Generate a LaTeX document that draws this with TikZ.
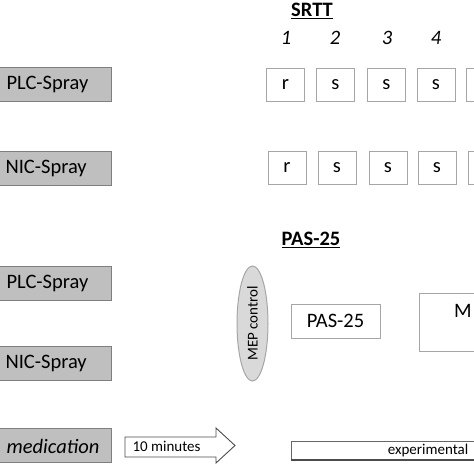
\documentclass[tikz,border=0pt]{standalone}
\usepackage{fontspec}
\setmainfont{Carlito}
\usetikzlibrary{shapes.geometric}
\definecolor{grayfill}{HTML}{BFBFBF}
\definecolor{grayline}{HTML}{7F7F7F}
\definecolor{boxline}{HTML}{A6A6A6}
\definecolor{ellfill}{HTML}{D9D9D9}
\tikzset{
  groupbox/.style={draw=grayline, fill=grayfill, line width=0.9pt},
  trialbox/.style={draw=boxline, line width=1pt, minimum width=38pt, minimum height=33pt, inner sep=0pt, font=\fontsize{20.5}{22}\selectfont},
  title/.style={font=\fontsize{20.5}{22}\selectfont\bfseries},
  num/.style={font=\fontsize{20.5}{22}\selectfont\itshape},
  big/.style={font=\fontsize{20.5}{22}\selectfont},
  small/.style={font=\fontsize{15}{17}\selectfont},
}
\begin{document}
\begin{tikzpicture}[x=1pt,y=-1pt]
\useasboundingbox (0,0) rectangle (474,474);
\clip (0,0) rectangle (474,474);
% left group boxes
\draw[groupbox] (-10,67) rectangle (111,101);
\node[big, anchor=west] (plc1) at (3,84.5) {PLC-Spray};
\draw[groupbox] (-10,151) rectangle (111,185);
\node[big, anchor=west] (nic1) at (2,168.5) {NIC-Spray};
\draw[groupbox] (-10,266) rectangle (111,300);
\node[big, anchor=west] (plc2) at (3,283.5) {PLC-Spray};
\draw[groupbox] (-10,346) rectangle (111,380);
\node[big, anchor=west] (nic2) at (2,363.5) {NIC-Spray};
\draw[groupbox] (-10,428) rectangle (111,462);
\node[big, font=\fontsize{20.5}{22}\selectfont\itshape] (med) at (53,446) {medication};
% SRTT
\node[title, inner sep=1pt] (srtt) at (312,11) {\underline{SRTT}};
\node[num] (n1) at (286,38) {1};
\node[num] (n2) at (335,38) {2};
\node[num] (n3) at (387,38) {3};
\node[num] (n4) at (436,38) {4};
\node[trialbox] (a1) at (285.5,85) {r};
\node[trialbox] (a2) at (335.5,85) {s};
\node[trialbox] (a3) at (386.5,85) {s};
\node[trialbox] (a4) at (436,85) {s};
\node[trialbox] (a5) at (485,85) {};
\node[trialbox] (b1) at (287,167.5) {r};
\node[trialbox] (b2) at (337,167.5) {s};
\node[trialbox] (b3) at (388,167.5) {s};
\node[trialbox] (b4) at (437,167.5) {s};
\node[trialbox] (b5) at (487,167.5) {};
% PAS-25
\node[title] (pas) at (311,240) {\underline{PAS-25}};
\node[ellipse, draw=boxline, fill=ellfill, line width=1pt, minimum width=31pt, minimum height=115pt, inner sep=0pt] (mep) at (252.5,323.5) {};
\node[small, rotate=90] (meptext) at (252.5,323.5) {MEP control};
\node[draw=boxline, line width=1pt, minimum width=89pt, minimum height=34pt, inner sep=0pt, big] (pasbox) at (335.5,321) {PAS-25};
\draw[boxline, line width=1pt] (500,293) -| (419,351) -- (500,351);
\node[big] (m) at (463,311) {M};
% bottom
\draw[draw=black!70, fill=white, line width=0.9pt, line join=miter]
  (125,437) -- (216,437) -- (216,428) -- (235,445.5) -- (216,463) -- (216,457) -- (125,457) -- cycle;
\node[small, anchor=west] (ten) at (129,446) {10 minutes};
\draw[draw=black!60, line width=0.8pt] (500,441) -- (291,441) -- (291,460) -- (500,460);
\draw[draw=black!70, line width=1.5pt] (291,460) -- (500,460);
\node[small] (exp) at (428,450) {experimental};
\end{tikzpicture}
\end{document}
